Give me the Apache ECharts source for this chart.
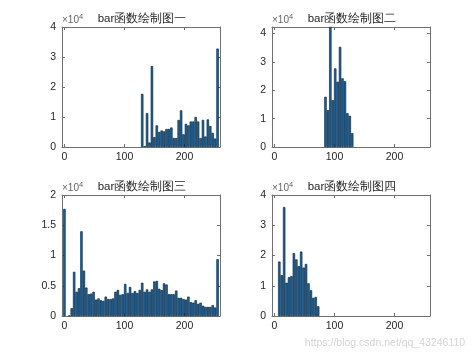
<!DOCTYPE html>
<html><head><meta charset="utf-8">
<script src="https://cdn.jsdelivr.net/npm/echarts@6/dist/echarts.min.js"></script>
<style>html,body{margin:0;padding:0;background:#fff}#c{width:474px;height:355px}</style>
</head><body><div id="c"></div>
<script>
// titles
const titles = ['bar函数绘制图一', 'bar函数绘制图二', 'bar函数绘制图三', 'bar函数绘制图四'];
const xTickLabels = [0, 100, 200];
const yTicksA = [0, 1, 2, 3, 4];
const yTicksC = [0, 0.5, 1, 1.5, 2];
// 64 histogram bins over 0..255 (values in units of 10^4)
const binCount = 64;
const counts1 = [0,0,0,0,0,0,0,0,0,0,0,0,0,0,0,0,0,0,0,0,0,0,0,0,0,0,0,0,0,0,0,0,
  1.77,0.03,1.13,0.15,2.7,0.33,0.72,0.5,0.55,0.52,0.6,0.6,0.65,0.3,0.3,0.9,
  1.22,0.42,0.77,0.72,0.85,0.85,1.0,0.85,0.3,0.9,0.35,0.92,0.7,0.47,0.28,3.28];
const counts2 = [0,0,0,0,0,0,0,0,0,0,0,0,0,0,0,0,0,0,0,0,0,
  1.77,1.3,4.23,1.65,2.77,2.3,3.53,2.42,2.32,1.19,1.1,0.49,
  0,0,0,0,0,0,0,0,0,0,0,0,0,0,0,0,0,0,0,0,0,0,0,0,0,0,0,0,0,0,0];
const counts3 = [1.77,0,0.01,0.13,0.73,0.4,0.46,1.4,0.75,0.47,0.36,0.37,0.4,0.27,0.29,0.26,
  0.25,0.32,0.28,0.28,0.29,0.4,0.43,0.35,0.36,0.53,0.38,0.48,0.38,0.41,0.38,0.43,
  0.55,0.4,0.44,0.4,0.44,0.57,0.58,0.45,0.43,0.54,0.52,0.36,0.36,0.36,0.42,0.3,
  0.3,0.28,0.27,0.32,0.23,0.22,0.26,0.2,0.22,0.17,0.15,0.15,0.15,0.18,0.14,0.94];
const counts4 = [0,0,1.8,1.35,3.6,1.1,1.28,1.32,2.08,1.87,1.65,2.13,1.6,1.72,1.08,0.85,
  0.6,0.63,0.32,0,0,0,0,0,0,0,0,0,0,0,0,0,0,0,0,0,0,0,0,0,0,0,0,0,0,0,0,0,
  0,0,0,0,0,0,0,0,0,0,0,0,0,0,0,0];
const watermark = 'https://blog.csdn.net/qq_43246110';

const panels = [
  {counts: counts1, ymax: 4, yticks: yTicksA, left: 62, top: 27, h: 120},
  {counts: counts2, ymax: 4.23, yticks: yTicksA, left: 272, top: 27, h: 120},
  {counts: counts3, ymax: 2, yticks: yTicksC, left: 62, top: 195, h: 121},
  {counts: counts4, ymax: 4, yticks: yTicksA, left: 272, top: 195, h: 121}
];
const W = 158, XMIN = -4.05, XMAX = 259.05;
const axisCol = '#707070', txtCol = '#262626';
const font = 'Liberation Sans, Arial, sans-serif';

const grid = [], xAxis = [], yAxis = [], series = [], graphic = [];
panels.forEach((p, k) => {
  grid.push({left: p.left, top: p.top, width: W, height: p.h});
  const xa = {type: 'value', gridIndex: k, min: XMIN, max: XMAX,
    axisLine: {show: true, onZero: false, lineStyle: {color: axisCol, width: 1}},
    axisTick: {show: true, inside: true, length: 3, customValues: xTickLabels, lineStyle: {color: axisCol}},
    splitLine: {show: false}};
  xAxis.push(Object.assign({}, xa, {position: 'bottom',
    axisLabel: {show: true, customValues: xTickLabels, color: txtCol, fontSize: 10.5, fontFamily: font, margin: 5}}));
  xAxis.push(Object.assign({}, xa, {position: 'top', axisLabel: {show: false}}));
  const ya = {type: 'value', gridIndex: k, min: 0, max: p.ymax,
    axisLine: {show: true, onZero: false, lineStyle: {color: axisCol, width: 1}},
    axisTick: {show: true, inside: true, length: 3, customValues: p.yticks, lineStyle: {color: axisCol}},
    splitLine: {show: false}};
  yAxis.push(Object.assign({}, ya, {position: 'left',
    axisLabel: {show: true, customValues: p.yticks, color: txtCol, fontSize: 10.5, fontFamily: font, margin: 6}}));
  yAxis.push(Object.assign({}, ya, {position: 'right', axisLabel: {show: false}}));
  const data = [];
  p.counts.forEach((v, i) => { if (v > 0) data.push([i * 255 / (binCount - 1), v]); });
  series.push({type: 'bar', xAxisIndex: 2 * k, yAxisIndex: 2 * k, data: data,
    barWidth: 2.4, barGap: '-100%', animation: false, silent: true,
    itemStyle: {color: '#1468aa', borderColor: '#0a1a2a', borderWidth: 0.6}});
  graphic.push({type: 'text', x: p.left + W / 2 + 1, y: p.top - 8,
    style: {text: titles[k], fill: txtCol, font: '11.5px ' + font, textAlign: 'center', textVerticalAlign: 'middle'}});
  graphic.push({type: 'text', x: p.left, y: p.top - 7,
    style: {text: '{a|×10}{b|4}', textVerticalAlign: 'middle',
      rich: {a: {fontSize: 10, fontFamily: font, fill: '#666'}, b: {fontSize: 7.5, fontFamily: font, fill: '#666', verticalAlign: 'top', padding: [0,0,6,0]}}}});
});
graphic.push({type: 'text', x: 385, y: 343,
  style: {text: watermark, fill: '#d4d4d4', font: '10.5px ' + font, textAlign: 'center', textVerticalAlign: 'middle'}});

const chart = echarts.init(document.getElementById('c'), null, {renderer: 'canvas'});
chart.setOption({animation: false, grid, xAxis, yAxis, series, graphic});
</script></body></html>
